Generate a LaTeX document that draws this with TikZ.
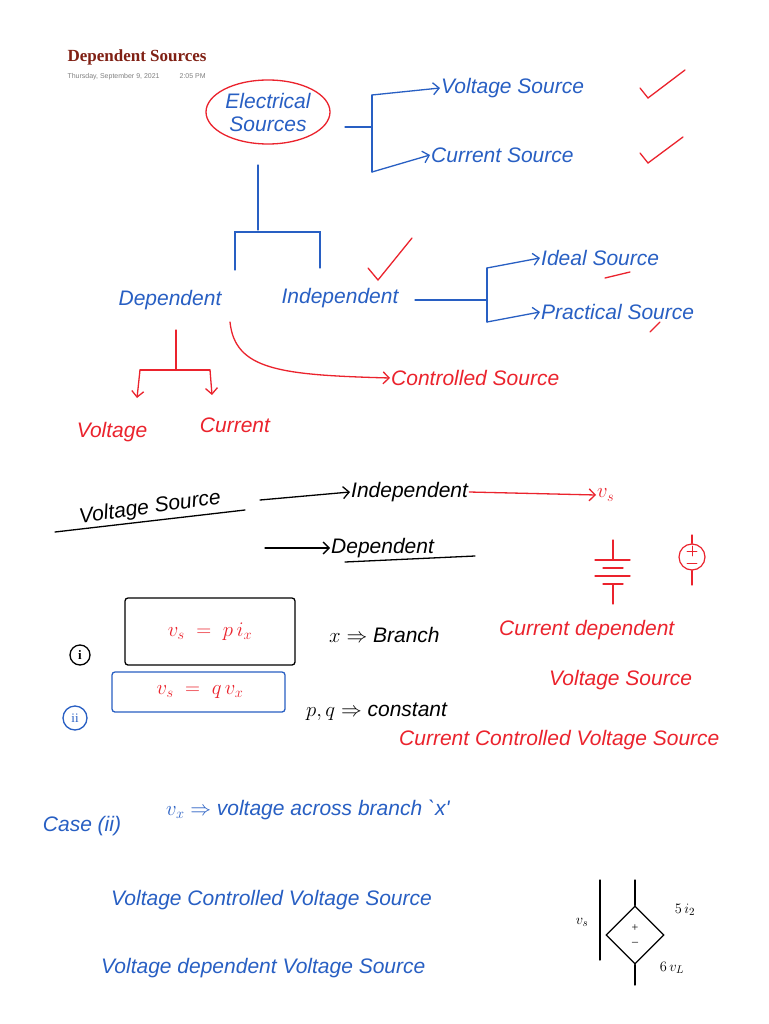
\documentclass[tikz,border=0pt]{standalone}
\usepackage{fontspec}
\setmainfont{Liberation Serif}
\newfontfamily\hand{Liberation Sans}
\usetikzlibrary{shapes.geometric,arrows.meta}
\definecolor{hb}{RGB}{40,95,195}
\definecolor{hr}{RGB}{235,35,45}
\definecolor{tr}{RGB}{128,32,20}
\tikzset{
 bt/.style={text=hb,font=\hand\itshape\fontsize{21}{23}\selectfont,inner sep=1pt},
 rt/.style={text=hr,font=\hand\itshape\fontsize{21}{23}\selectfont,inner sep=1pt},
 kt/.style={text=black,font=\hand\itshape\fontsize{21}{23}\selectfont,inner sep=1pt},
 bl/.style={draw=hb,line width=1.3pt,line cap=round},
 rl/.style={draw=hr,line width=1.3pt,line cap=round},
 kl/.style={draw=black,line width=1.3pt,line cap=round},
 ar/.style={-{Straight Barb[length=6pt]}},
}
\begin{document}
\begin{tikzpicture}[x=1pt,y=-1pt]
\useasboundingbox (0,0) rectangle (768,1024);
\fill[white] (0,0) rectangle (768,1024);
\node[anchor=west,text=tr,font=\bfseries\fontsize{17}{19}\selectfont] (title) at (64,57) {Dependent Sources};
\node[anchor=west,text=gray,font=\hand\fontsize{7}{8}\selectfont] (date) at (64,77) {Thursday, September 9, 2021\hspace{20pt}2:05 PM};
% electrical sources
\node[bt,align=center] (es) at (268,112) {Electrical\\Sources};
\draw[rl] (es) ellipse (62pt and 32pt);
\coordinate (e1) at (345,127); \coordinate (e2) at (372,127);
\coordinate (e3) at (372,95); \coordinate (e4) at (372,172);
\node[bt,anchor=west] (vs) at (440,88) {Voltage Source};
\node[bt,anchor=west] (cs) at (430,155) {Current Source};
\draw[bl] (e1)--(e2) (e3)--(e4);
\draw[bl,ar] (e3)--(vs.west);
\draw[bl,ar] (e4)--(cs.west);
\draw[rl] (640,88)--(648,98)--(685,70);
\draw[rl] (640,153)--(648,163)--(683,137);
% tree
\coordinate (t1) at (258,165); \coordinate (t2) at (258,230);
\draw[bl] (t1)--(t2) (235,270)--(235,232)--(320,232)--(320,268);
\node[bt] (dep) at (170,300) {Dependent};
\node[bt] (ind) at (340,298) {Independent};
\draw[rl] (368,268)--(378,280)--(412,238);
\coordinate (i1) at (415,300); \coordinate (i2) at (487,300);
\coordinate (i3) at (487,268); \coordinate (i4) at (487,322);
\draw[bl] (i1)--(i2) (i3)--(i4);
\node[bt,anchor=west] (ideal) at (540,258) {Ideal Source};
\node[bt,anchor=west] (prac) at (540,312) {Practical Source};
\draw[bl,ar] (i3)--(ideal.west);
\draw[bl,ar] (i4)--(prac.west);
\draw[rl] (605,278)--(630,272) (650,332)--(660,322);
% controlled
\node[rt,anchor=west] (ctrl) at (390,378) {Controlled Source};
\draw[rl,ar] (230,322) .. controls (235,370) and (280,375) .. (ctrl.west);
\draw[rl] (176,330)--(176,370) (140,370)--(210,370);
\node[rt] (vol) at (112,432) {Voltage};
\node[rt] (cur) at (235,425) {Current};
\draw[rl,ar] (140,370)--(137,398);
\draw[rl,ar] (210,370)--(212,395);
% voltage source section
\node[kt,rotate=8] (vsrc) at (150,508) {Voltage Source};
\draw[kl] (55,532)--(245,510);
\node[kt,anchor=west] (ind2) at (350,492) {Independent};
\draw[kl,ar] (260,500)--(ind2.west);
\node[rt,anchor=west] (vsr) at (596,495) {$v_s$};
\draw[rl,ar] (ind2.east)--(vsr.west);
\node[kt,anchor=west] (dep2) at (330,548) {Dependent};
\draw[kl,ar] (265,548)--(dep2.west);
\draw[kl] (345,562)--(475,556);
% battery
\draw[rl] (613,540)--(613,560) (595,560)--(630,560) (603,568)--(623,568) (595,576)--(630,576) (603,584)--(623,584) (613,584)--(613,604);
\node[draw=hr,circle,line width=1.2pt,minimum size=26pt,inner sep=0pt] (cs2) at (692,557) {};
\draw[rl,line width=0.9pt] (687,551)--(697,551) (692,546)--(692,556) (687,563)--(697,563);
\draw[rl] (692,535)--(cs2.north) (cs2.south)--(692,585);
% case i
\node[kl,draw,circle,inner sep=2pt,minimum size=20pt,font=\bfseries\fontsize{13}{13}\selectfont] (c1) at (80,655) {i};
\draw[kl,rounded corners=3pt] (125,598) rectangle (295,665);
\node[rt] (eq1) at (210,632) {$v_s\ =\ p\,i_x$};
\node[kt,anchor=west] (br) at (328,635) {$x \Rightarrow$ Branch};
\node[rt,anchor=west] (cd) at (498,630) {Current dependent};
\node[rt,anchor=west] (cd2) at (548,680) {Voltage Source};
% case ii
\node[bl,draw,circle,inner sep=2pt,minimum size=24pt,text=hb,font=\fontsize{13}{13}\selectfont] (c2) at (75,718) {ii};
\draw[bl,rounded corners=3pt] (112,672) rectangle (285,712);
\node[rt] (eq2) at (200,692) {$v_s\ =\ q\,v_x$};
\node[kt,anchor=west] (pq) at (305,712) {$p,q \Rightarrow$ constant};
\node[rt,anchor=west] (ccvs) at (398,740) {Current Controlled Voltage Source};
% case ii text
\node[bt] (case) at (82,826) {Case (ii)};
\node[bt,anchor=west] (vx) at (165,810) {$v_x \Rightarrow$ voltage across branch `x'};
\node[bt,anchor=west] (vcvs) at (110,900) {Voltage Controlled Voltage Source};
\node[bt,anchor=west] (vdvs) at (100,968) {Voltage dependent Voltage Source};
% diamond source
\node[draw=black,diamond,line width=1.2pt,minimum size=58pt,inner sep=0pt,align=center,font=\fontsize{12}{12}\selectfont] (dia) at (635,935) {+\\[2pt]--};
\draw[kl] (635,880)--(dia.north) (dia.south)--(635,985);
\draw[kl] (600,880)--(600,960);
\node[kt,font=\hand\itshape\fontsize{15}{15}\selectfont] (vsd) at (582,922) {$v_s$};
\node[kt,font=\hand\itshape\fontsize{15}{15}\selectfont] (i2) at (685,910) {$5\,i_2$};
\node[kt,font=\hand\itshape\fontsize{15}{15}\selectfont] (vl) at (672,968) {$6\,v_L$};
\end{tikzpicture}
\end{document}
